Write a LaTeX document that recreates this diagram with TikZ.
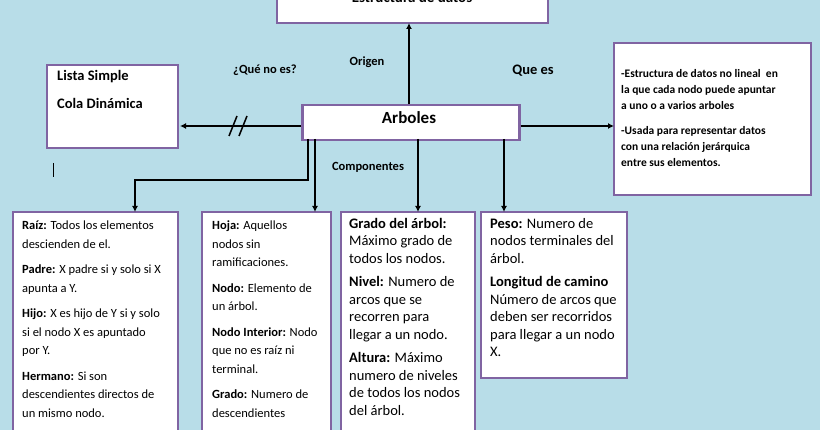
\documentclass[tikz,border=0pt]{standalone}
\usepackage{fontspec}
\setmainfont{Carlito}
\usetikzlibrary{arrows.meta}
\definecolor{bg}{HTML}{B8DDE8}
\definecolor{pur}{HTML}{8064A2}
\begin{document}
\begin{tikzpicture}[x=1pt,y=-1pt,
  bx/.style={draw=pur,line width=2.5pt,fill=white},
  ar/.style={line width=1.5pt,-{Latex[length=6pt,width=6pt]}},
  tx/.style={anchor=north west,align=left,inner sep=0pt,font=\fontsize{12.5}{18.5}\selectfont}]
\fill[bg] (0,0) rectangle (820,430);
\useasboundingbox (0,0) rectangle (820,430);
\begin{scope}
\clip (0,0) rectangle (820,430);
\draw[bx] (277,-20) rectangle (548,23);
\node[font=\bfseries\fontsize{15}{17}\selectfont] (est) at (412,-3) {Estructura de datos};
\coordinate (estb) at (409,23);
\draw[bx] (47,65) rectangle (178,148);
\node[tx,font=\bfseries\fontsize{14.5}{28}\selectfont] (lista) at (57,70) {Lista Simple\\Cola Dinámica};
\coordinate (listar) at (180,126);
\node[bx,minimum width=217pt,minimum height=35pt,anchor=north west] (arb) at (301,104) {};
\node[font=\bfseries\fontsize{17}{19}\selectfont] at (409,118) {Arboles};
\draw[bx] (614,43) rectangle (811,195);
\node[tx,font=\bfseries\fontsize{11.5}{16}\selectfont] (def) at (621,69) {-Estructura de datos no lineal\ \ en\\la que cada nodo puede apuntar\\a uno o a varios arboles\\[9pt]-Usada para representar datos\\con una relación jerárquica\\entre sus elementos.};
\coordinate (defl) at (614,126);
\draw[bx] (13,212) rectangle (178,450);
\node[tx] (b1) at (22,221) {\textbf{Raíz:} Todos los elementos\\descienden de el.\\[7pt]\textbf{Padre:} X padre si y solo si X\\apunta a Y.\\[7pt]\textbf{Hijo:} X es hijo de Y si y solo\\si el nodo X es apuntado\\por Y.\\[7pt]\textbf{Hermano:} Si son\\descendientes directos de\\un mismo nodo.};
\draw[bx] (202,212) rectangle (331,450);
\node[tx] (b2) at (212,221) {\textbf{Hoja:} Aquellos\\nodos sin\\ramificaciones.\\[7pt]\textbf{Nodo:} Elemento de\\un árbol.\\[7pt]\textbf{Nodo Interior:} Nodo\\que no es raíz ni\\terminal.\\[7pt]\textbf{Grado:} Numero de\\descendientes};
\draw[bx] (341,212) rectangle (475,450);
\node[tx,font=\fontsize{14.5}{17.5}\selectfont] (b3) at (349,218) {\textbf{Grado del árbol:}\\Máximo grado de\\todos los nodos.\\[6pt]\textbf{Nivel:} Numero de\\arcos que se\\recorren para\\llegar a un nodo.\\[6pt]\textbf{Altura:} Máximo\\numero de niveles\\de todos los nodos\\del árbol.};
\draw[bx] (481,212) rectangle (627,378);
\node[tx,font=\fontsize{14.5}{17.5}\selectfont] (b4) at (490,218) {\textbf{Peso:} Numero de\\nodos terminales del\\árbol.\\[6pt]\textbf{Longitud de camino}\\Número de arcos que\\deben ser recorridos\\para llegar a un nodo\\X.};
\draw[ar] (arb.north-|estb) -- (estb);
\draw[ar] (arb.west|-listar) -- (listar);
\draw[line width=1.5pt] (229,136) -- (237,116) (239,136) -- (247,116);
\draw[ar] (arb.east|-defl) -- (defl);
\draw[ar] (308,139) -- (308,180) -- (135,180) -- (135,212);
\draw[ar] (315,139) -- (315,212);
\draw[ar] (418,139) -- (418,212);
\draw[ar] (504,139) -- (504,212);
\node[font=\bfseries\fontsize{12.5}{14}\selectfont] (q1) at (265,70) {¿Qué no es?};
\node[font=\bfseries\fontsize{12.5}{14}\selectfont] (q2) at (367,62) {Origen};
\node[font=\bfseries\fontsize{14.5}{16}\selectfont] (q3) at (533,71) {Que es};
\node[font=\bfseries\fontsize{12.5}{14}\selectfont] (q4) at (368,167) {Componentes};
\draw[line width=0.8pt] (53,163) -- (53,177);
\end{scope}
\end{tikzpicture}
\end{document}
